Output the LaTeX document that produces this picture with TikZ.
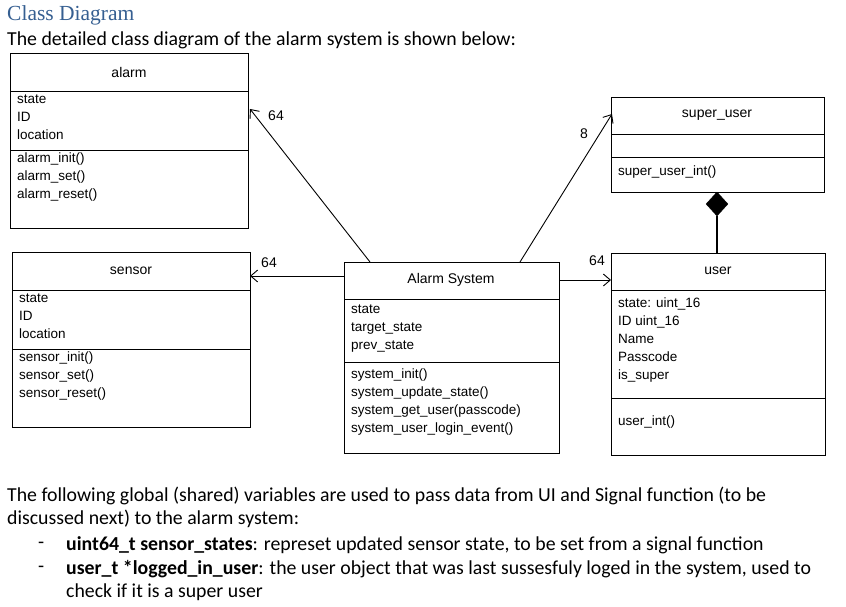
\documentclass[tikz,border=0pt]{standalone}
\usepackage{fontspec}
\setmainfont{Carlito}
\newfontfamily\diag{Liberation Sans}
\newfontfamily\ttl{Liberation Serif}
\usetikzlibrary{arrows.meta,shapes.geometric}
\definecolor{titleblue}{RGB}{54,95,145}
\begin{document}
\begin{tikzpicture}[x=1pt,y=-1pt,
  box/.style={draw,line width=0.9pt,anchor=north west,inner sep=0pt},
  cls/.style={font=\diag\fontsize{13.5}{18}\selectfont,anchor=north west,inner sep=0pt,align=left},
  hd/.style={font=\diag\fontsize{14}{15}\selectfont,inner sep=0pt},
  conn/.style={line width=0.9pt,-{Straight Barb[length=7pt,width=12pt]}},
  lbl/.style={font=\diag\fontsize{14}{15}\selectfont,inner sep=0pt},
  txt/.style={font=\fontsize{19.8}{22}\selectfont,anchor=west,inner sep=0pt}]
\useasboundingbox (0,0) rectangle (846,607);
\node[font=\ttl\fontsize{21.5}{24}\selectfont,text=titleblue,anchor=west,inner sep=0pt] (title) at (7,15) {Class Diagram};
\node[txt] (intro) at (7,40) {The detailed class diagram of the alarm system is shown below:};
% alarm
\node[box,minimum width=238pt,minimum height=175pt] (alarm) at (10,53) {};
\draw[line width=0.9pt] (10,91) -- (248,91) (10,150) -- (248,150);
\node[hd] (alarmh) at (129,72) {alarm};
\node[cls] (alarma) at (17,95) {state\\ID\\location};
\node[cls] (alarmm) at (17,153) {alarm\_init()\\alarm\_set()\\alarm\_reset()};
% sensor
\node[box,minimum width=238pt,minimum height=175pt] (sensor) at (12,252) {};
\draw[line width=0.9pt] (12,290) -- (250,290) (12,349) -- (250,349);
\node[hd] (sensorh) at (131,271) {sensor};
\node[cls] (sensora) at (19,294) {state\\ID\\location};
\node[cls] (sensorm) at (19,352) {sensor\_init()\\sensor\_set()\\sensor\_reset()};
% alarm system
\node[box,minimum width=215pt,minimum height=191pt] (sys) at (344,262) {};
\draw[line width=0.9pt] (344,299) -- (559,299) (344,362) -- (559,362);
\node[hd] (sysh) at (451,280) {Alarm System};
\node[cls] (sysa) at (351,305) {state\\target\_state\\prev\_state};
\node[cls] (sysm) at (351,369) {system\_init()\\system\_update\_state()\\system\_get\_user(passcode)\\system\_user\_login\_event()};
% super_user
\node[box,minimum width=213pt,minimum height=95pt] (su) at (611,97) {};
\draw[line width=0.9pt] (611,134) -- (824,134) (611,157) -- (824,157);
\node[hd] (suh) at (717,115) {super\_user};
\node[cls] (sum) at (618,166) {super\_user\_int()};
% user
\node[box,minimum width=214pt,minimum height=202pt] (user) at (611,253) {};
\draw[line width=0.9pt] (611,290) -- (825,290) (611,398) -- (825,398);
\node[hd] (userh) at (718,271) {user};
\node[cls] (usera) at (618,298) {state: uint\_16\\ID uint\_16\\Name\\Passcode\\is\_super};
\node[cls] (userm) at (618,416) {user\_int()};
% composition
\node[diamond,fill=black,draw,inner sep=0pt,minimum width=22pt,minimum height=24pt] (dia) at (717,204) {};
\draw[line width=1.8pt] (dia.south) -- (717,253);
% connectors
\coordinate (s1) at (370,262); \coordinate (e1) at (250,109);
\coordinate (s2) at (520,262); \coordinate (e2) at (612,114);
\coordinate (s3) at (344,276); \coordinate (e3) at (250,276);
\coordinate (s4) at (559,280); \coordinate (e4) at (611,280);
\draw[conn] (s1) -- (e1);
\draw[conn] (s2) -- (e2);
\draw[conn] (s3) -- (e3);
\draw[conn] (s4) -- (e4);
\node[lbl] (l1) at (276,116) {64};
\node[lbl] (l2) at (584,134) {8};
\node[lbl] (l3) at (269,263) {64};
\node[lbl] (l4) at (597,261) {64};
% bottom text
\node[txt] (p1) at (7,496) {The following global (shared) variables are used to pass data from UI and Signal function (to be};
\node[txt] (p2) at (7,519) {discussed next) to the alarm system:};
\node[txt] (b1) at (38,545) {-};
\node[txt] (b1t) at (66,545) {\textbf{uint64\_t sensor\_states}: represet updated sensor state, to be set from a signal function};
\node[txt] (b2) at (38,569) {-};
\node[txt] (b2t) at (66,569) {\textbf{user\_t *logged\_in\_user}: the user object that was last sussesfuly loged in the system, used to};
\node[txt] (b3t) at (66,592) {check if it is a super user};
\end{tikzpicture}
\end{document}
